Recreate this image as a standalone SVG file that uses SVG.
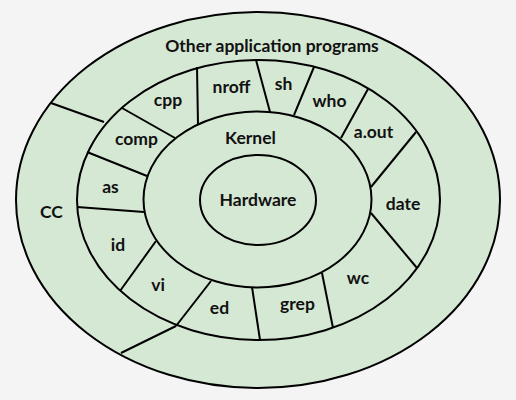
<svg xmlns="http://www.w3.org/2000/svg" width="516" height="400" viewBox="0 0 516 400">
<style>
.ring{fill:#d5e8d4;stroke:#000;stroke-width:2}
.div{stroke:#000;stroke-width:2;fill:none}
text{font-family:Lato,"Liberation Sans",sans-serif;font-size:17.5px;font-weight:700;fill:#111;text-anchor:middle}
</style>
<rect width="516" height="400" fill="#f4f4f4"/>
<g id="other-programs">
<ellipse class="ring" cx="258" cy="200" rx="242" ry="188"/>
<text x="272" y="52">Other application programs</text>
<text x="51.5" y="218">CC</text>
</g>
<g id="programs">
<ellipse class="ring" cx="258.5" cy="200" rx="181.5" ry="140"/>
<text x="168" y="105.5">cpp</text>
<text x="231.5" y="93">nroff</text>
<text x="283.5" y="90">sh</text>
<text x="329.5" y="107">who</text>
<text x="373.5" y="138">a.out</text>
<text x="403" y="210">date</text>
<text x="358" y="284">wc</text>
<text x="297.5" y="310">grep</text>
<text x="219.5" y="314">ed</text>
<text x="158" y="291">vi</text>
<text x="118" y="250.7">id</text>
<text x="110.5" y="193">as</text>
<text x="136.5" y="145">comp</text>
</g>
<g id="kernel">
<ellipse class="ring" cx="257.5" cy="199.5" rx="114" ry="88"/>
<text x="250.5" y="144">Kernel</text>
</g>
<g id="hardware">
<ellipse class="ring" cx="258" cy="200" rx="58" ry="45"/>
<text x="258" y="205.7">Hardware</text>
</g>
<g id="connectors" class="div">
<line x1="51" y1="103" x2="104" y2="122"/>
<line x1="121" y1="353" x2="176" y2="326"/>
<line x1="122" y1="108" x2="175" y2="138"/>
<line x1="197" y1="67" x2="198" y2="125"/>
<line x1="256" y1="60" x2="270" y2="112"/>
<line x1="314" y1="67" x2="294" y2="115"/>
<line x1="368" y1="89" x2="341" y2="138"/>
<line x1="416" y1="132" x2="371" y2="187"/>
<line x1="371" y1="213" x2="417" y2="268"/>
<line x1="322" y1="273" x2="333" y2="328"/>
<line x1="252" y1="287" x2="260" y2="340"/>
<line x1="211" y1="281" x2="176" y2="326"/>
<line x1="156" y1="241" x2="120" y2="291"/>
<line x1="77" y1="207" x2="144" y2="212"/>
<line x1="87" y1="152" x2="147" y2="176"/>
</g>
</svg>
